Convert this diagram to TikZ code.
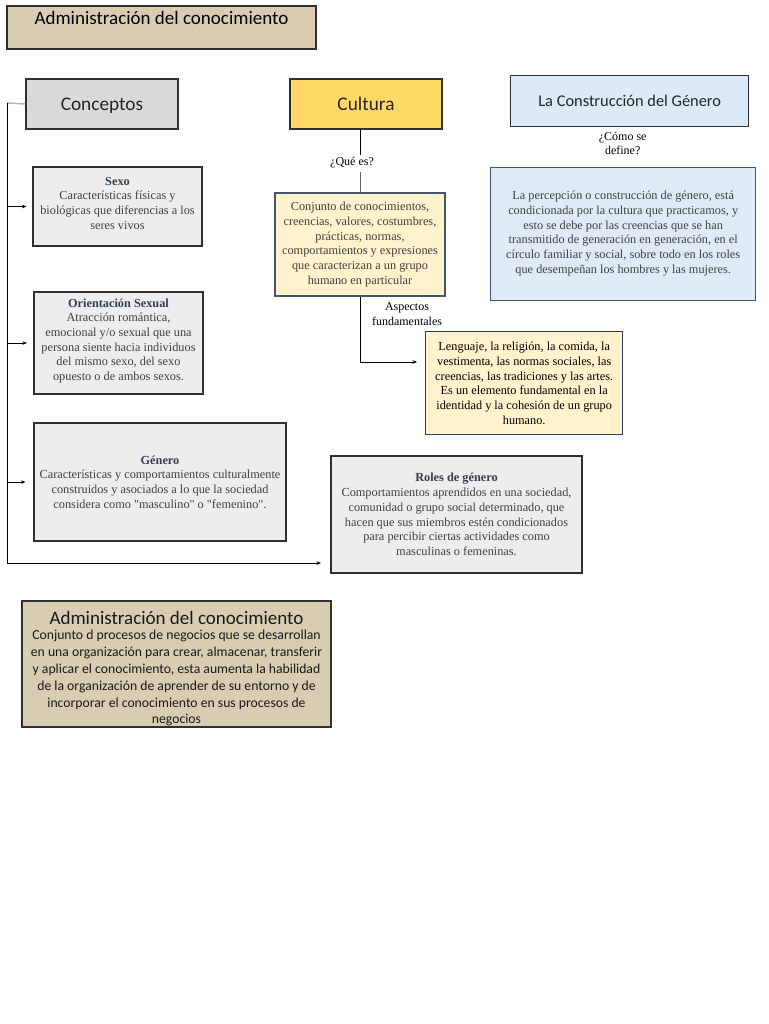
\documentclass[tikz,border=0pt]{standalone}
\usepackage{fontspec}
\setmainfont{Liberation Serif}
\newfontfamily\calib{Carlito}
\usetikzlibrary{arrows.meta}
\definecolor{beige}{HTML}{D8CCB2}
\definecolor{gris}{HTML}{D9D9D9}
\definecolor{grisc}{HTML}{EDEDED}
\definecolor{amar}{HTML}{FFD966}
\definecolor{crema}{HTML}{FFF2CC}
\definecolor{azulc}{HTML}{DCE9F7}
\definecolor{azuld}{HTML}{DEEBF7}
\definecolor{bordeo}{HTML}{303030}
\definecolor{bordeaz}{HTML}{44546A}
\definecolor{navy}{HTML}{2F3F6A}
\definecolor{textog}{HTML}{404040}
\definecolor{tit}{HTML}{333F50}
\begin{document}
\begin{tikzpicture}[x=1pt,y=-1pt,
  bx/.style={draw=bordeo, line width=1.1pt, rectangle, inner sep=2pt, align=center},
  serif/.style={font=\fontsize{12.3}{14.7}\selectfont},
  head/.style={font=\calib\fontsize{19.3}{23}\selectfont, text=black!85, text depth=0pt},
  lbl/.style={font=\fontsize{12}{14.5}\selectfont, align=center, inner sep=1pt},
  conn/.style={line width=0.8pt, draw=black},
  arr/.style={conn, -{Stealth[length=4.5pt,width=3.5pt]}}]
\useasboundingbox[fill=white] (0,0) rectangle (768,1024);

% title
\node[bx, fill=beige, minimum width=309pt, minimum height=43pt,
  label={[font=\calib\fontsize{19}{22}\selectfont, text=black, yshift=10pt]center:Administración del conocimiento}]
  (titulo) at (161.5,27.5) {};

% headers
\node[bx, fill=gris, minimum width=152pt, minimum height=50pt, head] (conceptos) at (102,104) {Conceptos};
\node[bx, fill=amar, minimum width=152pt, minimum height=50pt, head] (cultura) at (366,104) {Cultura};
\node[bx, fill=azulc, minimum width=238pt, minimum height=51pt, head, font=\calib\fontsize{16.4}{19}\selectfont]
  (construccion) at (629.7,100.8) {La Construcción del Género};

% concept boxes
\node[bx, fill=grisc, minimum width=169pt, minimum height=79pt, serif, text=textog, text depth=7pt] (sexo) at (117.5,206.5)
  {\textcolor{tit}{\textbf{Sexo}}\\Características físicas y\\biológicas que diferencias a los\\seres vivos};
\node[bx, fill=grisc, minimum width=169pt, minimum height=102pt, serif, text=textog, text depth=7pt] (orient) at (118.5,343)
  {\textcolor{tit}{\textbf{Orientación Sexual}}\\Atracción romántica,\\emocional y/o sexual que una\\persona siente hacia individuos\\del mismo sexo, del sexo\\opuesto o de ambos sexos.};
\node[bx, fill=grisc, minimum width=252pt, minimum height=118pt, serif, text=textog] (genero) at (160,482)
  {\textcolor{tit}{\textbf{Género}}\\Características y comportamientos culturalmente\\construidos y asociados a lo que la sociedad\\considera como \textquotedbl masculino\textquotedbl{} o \textquotedbl femenino\textquotedbl.};
\node[bx, fill=grisc, minimum width=251pt, minimum height=117pt, serif, text=textog] (roles) at (456.5,514.5)
  {\textcolor{tit}{\textbf{Roles de género}}\\Comportamientos aprendidos en una sociedad,\\comunidad o grupo social determinado, que\\hacen que sus miembros estén condicionados\\para percibir ciertas actividades como\\masculinas o femeninas.};

% cultura boxes
\node[bx, fill=crema, draw=bordeaz, minimum width=170pt, minimum height=103pt, serif, text=textog] (culdef) at (360,244.5)
  {Conjunto de conocimientos,\\creencias, valores, costumbres,\\prácticas, normas,\\comportamientos y expresiones\\que caracterizan a un grupo\\humano en particular};
\node[bx, fill=crema, draw=navy, minimum width=197pt, minimum height=103pt, serif, text=black] (lenguaje) at (524.2,383.2)
  {Lenguaje, la religión, la comida, la\\vestimenta, las normas sociales, las\\creencias, las tradiciones y las artes.\\Es un elemento fundamental en la\\identidad y la cohesión de un grupo\\humano.};

% genero definition
\node[bx, fill=azuld, draw=bordeaz, minimum width=265pt, minimum height=133pt, serif, text=textog] (gendef) at (623.2,233.6)
  {La percepción o construcción de género, está\\condicionada por la cultura que practicamos, y\\esto se debe por las creencias que se han\\transmitido de generación en generación, en el\\círculo familiar y social, sobre todo en los roles\\que desempeñan los hombres y las mujeres.};

% bottom admin
\node[bx, fill=beige, minimum width=309pt, minimum height=126pt, inner ysep=0pt, font=\calib\fontsize{13.7}{16.8}\selectfont, text=black!90] (admin) at (176.5,664)
  {\rule{0pt}{23pt}{\fontsize{19}{16.8}\selectfont Administración del conocimiento}\\[-1.5pt]Conjunto d procesos de negocios que se desarrollan\\en una organización para crear, almacenar, transferir\\y aplicar el conocimiento, esta aumenta la habilidad\\de la organización de aprender de su entorno y de\\incorporar el conocimiento en sus procesos de\\negocios};

% labels
\node[lbl] (quees) at (352,163) {¿Qué es?};
\node[lbl, font=\fontsize{12}{14}\selectfont] (como) at (622.7,143) {¿Cómo se\\define?};
\node[lbl, font=\fontsize{12}{15}\selectfont] (aspectos) at (407,314) {Aspectos\\fundamentales};

% connectors: left bracket
\coordinate (ltop) at (7,103);
\coordinate (lbot) at (7,563);
\draw[line width=1.4pt, draw=black!30] (ltop) -- (conceptos.west);
\draw[conn] (ltop) -- (lbot);
\draw[arr, shorten >=6pt] (ltop |- sexo.west) -- (sexo.west);
\draw[arr, shorten >=6.5pt] (ltop |- orient.west) -- (orient.west);
\draw[arr, shorten >=8pt] (ltop |- genero.west) -- (genero.west);
\draw[arr, shorten >=9.5pt] (lbot) -- (roles.west |- lbot);

% cultura connectors
\draw[conn] (culdef.north |- cultura.south) -- ([yshift=1pt]culdef.north |- quees.north);
\draw[conn, draw=black!60] ([yshift=-2pt]culdef.north |- quees.south) -- (culdef.north);
\coordinate (lent) at (417,362);
\draw[arr] (culdef.south) |- (lent);
\end{tikzpicture}
\end{document}
